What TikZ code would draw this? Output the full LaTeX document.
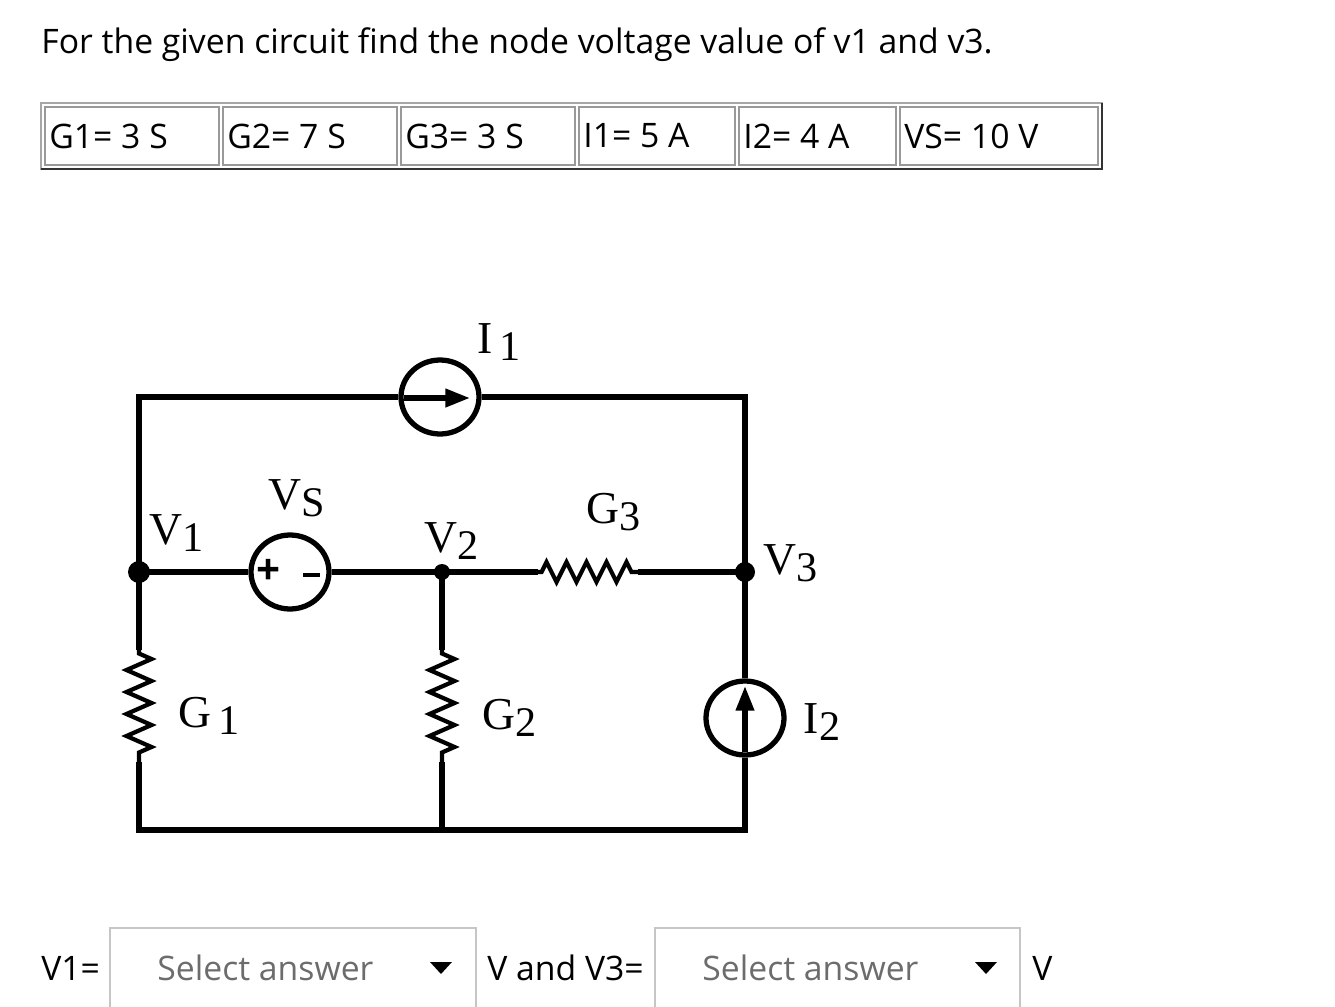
\documentclass[tikz,border=0pt]{standalone}
\usepackage{fontspec}
\setmainfont{Open Sans}
\newfontfamily\ckt{Liberation Serif}
\usetikzlibrary{shapes.geometric,decorations.pathmorphing,arrows.meta}
\newcommand{\sbs}[1]{\raisebox{-0.35ex}{\fontsize{24}{24}\selectfont #1}}
\begin{document}
\begin{tikzpicture}[x=0.02cm,y=-0.02cm,
  wire/.style={line width=3pt},
  src/.style={draw,ellipse,line width=3pt,minimum width=1.56cm,minimum height=1.48cm,inner sep=0pt},
  res/.style={line width=2.4pt,decorate,decoration={zigzag,segment length=0.44cm,amplitude=0.25cm,pre length=2pt,post length=2pt}},
  lab/.style={font=\ckt\fontsize{26}{26}\selectfont},
  dot/.style={circle,fill,inner sep=0pt,minimum size=#1},
  txt/.style={font=\fontsize{19.2}{22}\selectfont,anchor=west,inner sep=0pt},
  cell/.style={draw=gray!80,line width=1.2pt}]
\useasboundingbox (0,0) rectangle (1335,1007);
% title
\node[txt] (title) at (41,45) {For the given circuit find the node voltage value of v1 and v3.};
% table
\draw[line width=1.2pt,draw=gray!70] (41,103) rectangle (1102,169);
\draw[line width=1.5pt,draw=black!80] (41,169) -- (1102,169) -- (1102,103);
\foreach \a/\b/\t in {45/219/{G1= 3 S},223/397/{G2= 7 S},401/575/{G3= 3 S},579/735/{I1= 5 A},739/896/{I2= 4 A},900/1098/{VS= 10 V}}{
  \draw[cell] (\a,107) rectangle (\b,165);
  \node[txt] at (\a+4,136) {\t};
}
% circuit coordinates
\coordinate (tl) at (139,397); \coordinate (tr) at (745,397);
\coordinate (v1) at (139,572); \coordinate (v2) at (442,572); \coordinate (v3) at (745,572);
\coordinate (bl) at (139,830); \coordinate (bm) at (442,830); \coordinate (br) at (745,830);
\node[src] (I1) at (440,397) {};
\node[src] (VS) at (290,572) {};
\node[src] (I2) at (745,718) {};
\coordinate (g1a) at (139,650); \coordinate (g1b) at (139,762);
\coordinate (g2a) at (442,650); \coordinate (g2b) at (442,762);
\coordinate (g3a) at (538,572); \coordinate (g3b) at (638,572);
% wires
\draw[wire] (I1.west) -- (tl) -- (v1) -- (VS.west);
\draw[wire] (I1.east) -- (tr) -- (v3) -- (I2.north);
\draw[wire] (VS.east) -- (v2) -- (g3a);
\draw[wire] (g3b) -- (v3);
\draw[wire] (v1) -- (g1a); \draw[wire] (g1b) -- (bl) -- (br) -- (I2.south);
\draw[wire] (v2) -- (g2a); \draw[wire] (g2b) -- (bm);
\draw[res] (g1a) -- (g1b);
\draw[res] (g2a) -- (g2b);
\draw[res,decoration={zigzag,segment length=0.4cm,amplitude=0.2cm}] (g3a) -- (g3b);
% source symbols
\draw[line width=3pt,-{Triangle[length=14pt,width=10pt]}] (404,398) -- (470,398);
\draw[line width=3pt,-{Triangle[length=14pt,width=10pt]}] (745,752) -- (745,686);
\node[font=\bfseries\fontsize{24}{24}\selectfont] (plus) at (269,572) {+};
\draw[line width=2.6pt] (303,575) -- (320,575);
\node[dot=0.44cm] (d1) at (v1) {};
\node[dot=0.32cm] (d2) at (v2) {};
\node[dot=0.4cm] (d3) at (v3) {};
% labels
\node[lab] (lI1) at (499,342) {I\,\sbs{1}};
\node[lab] (lVs) at (297,498) {V\sbs{S}};
\node[lab] (lV1) at (177,533) {V\sbs{1}};
\node[lab] (lV2) at (452,541) {V\sbs{2}};
\node[lab] (lG3) at (614,512) {G\sbs{3}};
\node[lab] (lV3) at (791,563) {V\sbs{3}};
\node[lab] (lG1) at (209,716) {G\,\sbs{1}};
\node[lab] (lG2) at (510,718) {G\sbs{2}};
\node[lab] (lI2) at (822,722) {I\sbs{2}};
% answer line
\node[txt] (a1) at (41,968) {V1=};
\draw[draw=gray!45,line width=1.5pt] (110,1010) -- (110,928) -- (476,928) -- (476,1010);
\node[txt,text=gray!85!black] (s1) at (157,968) {Select answer};
\fill (430,962) -- (452,962) -- (441,974) -- cycle;
\node[txt] (a2) at (487,968) {V and V3=};
\draw[draw=gray!45,line width=1.5pt] (655,1010) -- (655,928) -- (1020,928) -- (1020,1010);
\node[txt,text=gray!85!black] (s2) at (702,968) {Select answer};
\fill (975,962) -- (997,962) -- (986,974) -- cycle;
\node[txt] (a3) at (1032,968) {V};
\end{tikzpicture}
\end{document}
